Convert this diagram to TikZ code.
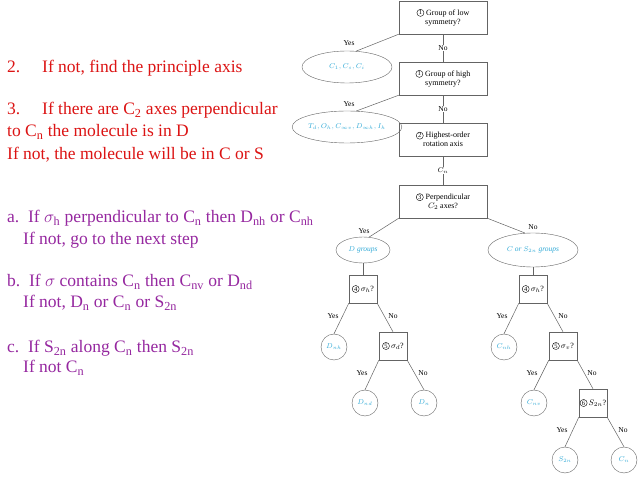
\documentclass[tikz,border=0pt]{standalone}
\usepackage{fontspec}
\setmainfont{Liberation Serif}
\usetikzlibrary{shapes.geometric}
\definecolor{rd}{RGB}{220,20,20}
\definecolor{pu}{RGB}{150,40,160}
\definecolor{tl}{RGB}{50,170,215}
\definecolor{ln}{RGB}{100,100,100}
\newcommand{\cnum}[1]{\tikz[baseline=-2.3pt]\node[draw,circle,inner sep=0.6pt,minimum width=0pt,minimum height=0pt,font=\fontsize{6.5}{6.5}\selectfont]{#1};}
\begin{document}
\begin{tikzpicture}[x=1pt,y=-1pt,
  txt/.style={anchor=base west,inner sep=0pt,font=\fontsize{17.5}{19}\selectfont},
  box/.style={draw=ln,rectangle,inner sep=0pt,align=center,font=\fontsize{8}{9}\selectfont},
  ell/.style={draw=ln,ellipse,inner sep=0pt,text=tl,font=\itshape\fontsize{7.5}{8}\selectfont},
  circ/.style={draw=ln,circle,minimum size=26pt,inner sep=0pt,text=tl,font=\itshape\fontsize{7.5}{8}\selectfont},
  lab/.style={inner sep=0pt,font=\fontsize{7.5}{7.5}\selectfont},
  edge/.style={draw=ln,line width=0.5pt}]
\useasboundingbox (0,0) rectangle (638,478);
\fill[white] (0,0) rectangle (638,478);
% left text
\node[txt,text=rd] (t1) at (7,73) {2.};
\node[txt,text=rd] (t1b) at (42,73) {If not, find the principle axis};
\node[txt,text=rd] (t2) at (7,115) {3.};
\node[txt,text=rd] (t2b) at (42,115) {If there are C\textsubscript{2} axes perpendicular};
\node[txt,text=rd] (t3) at (7,137) {to C\textsubscript{n} the molecule is in D};
\node[txt,text=rd] (t4) at (7,160) {If not, the molecule will be in C or S};
\node[txt,text=pu] (p1) at (7,223) {a.\ \ If $\sigma_{\mathrm{h}}$ perpendicular to C\textsubscript{n} then D\textsubscript{nh} or C\textsubscript{nh}};
\node[txt,text=pu] (p2) at (23,245) {If not, go to the next step};
\node[txt,text=pu] (p3) at (7,287) {b.\ \ If $\sigma$ contains C\textsubscript{n} then C\textsubscript{nv} or D\textsubscript{nd}};
\node[txt,text=pu] (p4) at (23,308) {If not, D\textsubscript{n} or C\textsubscript{n} or S\textsubscript{2n}};
\node[txt,text=pu] (p5) at (7,353) {c.\ \ If S\textsubscript{2n} along C\textsubscript{n} then S\textsubscript{2n}};
\node[txt,text=pu] (p6) at (23,373) {If not C\textsubscript{n}};
% flowchart
\node[box,minimum width=88pt,minimum height=33pt] (b1) at (443,17.5) {\cnum{1}\ Group of low\\symmetry?};
\node[box,minimum width=88pt,minimum height=33pt] (b2) at (443,78.5) {\cnum{1}\ Group of high\\symmetry?};
\node[box,minimum width=88pt,minimum height=33pt] (b3) at (443,139.5) {\cnum{2}\ Highest-order\\rotation axis};
\node[box,minimum width=88pt,minimum height=33pt] (b4) at (443,201.5) {\cnum{3}\ Perpendicular\\$C_2$ axes?};
\node[ell,minimum width=90pt,minimum height=32pt] (e1) at (347,67) {$C_1, C_s, C_i$};
\node[ell,minimum width=88pt,minimum height=32pt] (e2) at (347,127) {$T_d, O_h, C_{\infty v}, D_{\infty h}, I_h$};
\draw[edge] (b1.south) -- node[lab,fill=white,inner sep=1pt]{No} (b2.north);
\draw[edge] (b2.south) -- node[lab,fill=white,inner sep=1pt]{No} (b3.north);
\draw[edge] (b3.south) -- node[lab,fill=white,inner sep=1pt]{$C_n$} (b4.north);
\coordinate (b1sw) at (b1.south west);
\coordinate (b2sw) at (b2.south west);
\draw[edge] (b1sw) -- (e1.60);
\draw[edge] (b2sw) -- (e2.60);
\node[lab] (y1) at (349,43) {Yes};
\node[lab] (y2) at (349,104) {Yes};
\node[ell,minimum width=54pt,minimum height=26pt] (dg) at (363,250) {$D$ groups};
\node[ell,minimum width=90pt,minimum height=34pt] (cg) at (533,250) {$C$ or $S_{2n}$ groups};
\coordinate (b4sw) at (b4.south west);
\coordinate (b4se) at (b4.south east);
\draw[edge] (b4sw) -- (dg.65);
\draw[edge] (b4se) -- (cg.115);
\node[lab] (y3) at (364,231) {Yes};
\node[lab] (n3) at (533,227) {No};
% D branch
\node[box,minimum width=28pt,minimum height=28pt] (dh) at (363,289) {\cnum{4}\,$\sigma_h$?};
\draw[edge] (dg.south) -- (dh.north);
\node[circ] (dnh) at (334,347) {$D_{nh}$};
\node[box,minimum width=28pt,minimum height=28pt] (dd) at (393,346) {\cnum{5}\,$\sigma_d$?};
\coordinate (dhsw) at (dh.south west); \coordinate (dhse) at (dh.south east);
\draw[edge] (dhsw) -- (dnh.north);
\draw[edge] (dhse) -- (dd.north);
\node[lab] at (333,316) {Yes}; \node[lab] at (393,316) {No};
\node[circ] (dnd) at (365,403) {$D_{nd}$};
\node[circ] (dn) at (424,403) {$D_n$};
\coordinate (ddsw) at (dd.south west); \coordinate (ddse) at (dd.south east);
\draw[edge] (ddsw) -- (dnd.north);
\draw[edge] (ddse) -- (dn.north);
\node[lab] at (362,373) {Yes}; \node[lab] at (423,373) {No};
% C branch
\node[box,minimum width=28pt,minimum height=28pt] (ch) at (533,289) {\cnum{4}\,$\sigma_h$?};
\draw[edge] (cg.south) -- (ch.north);
\node[circ] (cnh) at (504,347) {$C_{nh}$};
\node[box,minimum width=28pt,minimum height=28pt] (cv) at (563,346) {\cnum{5}\,$\sigma_v$?};
\coordinate (chsw) at (ch.south west); \coordinate (chse) at (ch.south east);
\draw[edge] (chsw) -- (cnh.north);
\draw[edge] (chse) -- (cv.north);
\node[lab] at (502,316) {Yes}; \node[lab] at (563,316) {No};
\node[circ] (cnv) at (534,403) {$C_{nv}$};
\node[box,minimum width=28pt,minimum height=28pt] (cs) at (593,403) {\cnum{6}\,$S_{2n}$?};
\coordinate (cvsw) at (cv.south west); \coordinate (cvse) at (cv.south east);
\draw[edge] (cvsw) -- (cnv.north);
\draw[edge] (cvse) -- (cs.north);
\node[lab] at (532,373) {Yes}; \node[lab] at (592,373) {No};
\node[circ] (s2n) at (565,460) {$S_{2n}$};
\node[circ] (cn) at (624,460) {$C_n$};
\coordinate (cssw) at (cs.south west); \coordinate (csse) at (cs.south east);
\draw[edge] (cssw) -- (s2n.north);
\draw[edge] (csse) -- (cn.north);
\node[lab] at (562,430) {Yes}; \node[lab] at (623,430) {No};
\end{tikzpicture}
\end{document}
